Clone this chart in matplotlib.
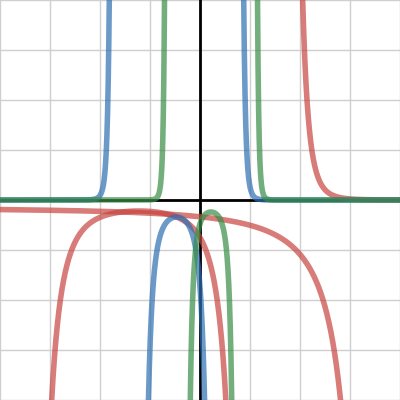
import numpy as np
import matplotlib
matplotlib.use("Agg")
import matplotlib.pyplot as plt

# curve parameters (poles, inner peak value, sharpness)
blue_poles = [-1.5, 0.56]; blue_peak = 0.34; blue_n = 7
green_poles = [-0.5, 0.94]; green_peak = 0.24; green_n = 7
red1_poles = [-3.85, 1.4]; red1_peak = 0.22; red1_n = 5
red2_pole = 3.6; red2_k = 2.4; red2_off = -0.15

fig = plt.figure(figsize=(4, 4), dpi=100)
ax = fig.add_axes([0, 0, 1, 1])
ax.set_xlim(-4, 4); ax.set_ylim(-4, 4)
for v in np.arange(-4, 4.01, 1):
    ax.axvline(v, color="#cfcfcf", lw=1, zorder=0)
    ax.axhline(v, color="#cfcfcf", lw=1, zorder=0)
ax.axvline(0, color="black", lw=2, zorder=1)
ax.axhline(0, color="black", lw=2, zorder=1)

def plot_branches(f, poles, color):
    edges = [-4.2] + sorted(poles) + [4.2]
    for a, b in zip(edges[:-1], edges[1:]):
        x = np.linspace(a + 1e-6, b - 1e-6, 6000)
        y = f(x)
        y[np.abs(y) > 20] = np.nan
        ax.plot(x, y, color=color, lw=4, alpha=0.7, solid_capstyle="round")

def pole_pair(poles, peak, n):
    h = (poles[1] - poles[0]) / 2
    return lambda x: -peak * (h * h / -((x - poles[0]) * (x - poles[1]))) ** n * np.sign(-(x - poles[0]) * (x - poles[1])) ** (n + 1)

plot_branches(pole_pair(red1_poles, red1_peak, red1_n), red1_poles, "#c74440")
plot_branches(lambda x: red2_off + red2_k / ((x - red2_pole) * np.abs(x - red2_pole)), [red2_pole], "#c74440")
plot_branches(pole_pair(blue_poles, blue_peak, blue_n), blue_poles, "#2d70b3")
plot_branches(pole_pair(green_poles, green_peak, green_n), green_poles, "#388c46")
ax.axis("off")
fig.savefig("out.png")
